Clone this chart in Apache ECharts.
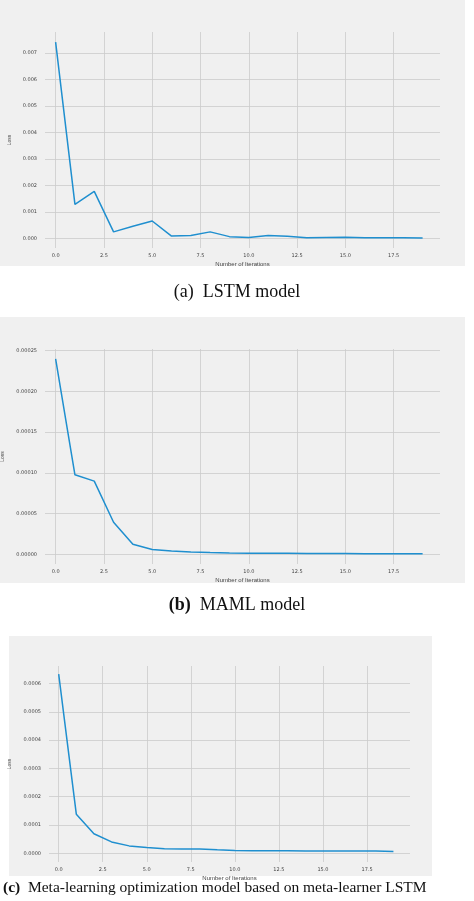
<!DOCTYPE html>
<html><head><meta charset="utf-8">
<script src="https://cdn.jsdelivr.net/npm/echarts@6/dist/echarts.min.js"></script>
<style>html,body{margin:0;padding:0;background:#fff}#c{width:474px;height:901px}</style>
</head><body><div id="c"></div>
<script>
const iterations = [0,1,2,3,4,5,6,7,8,9,10,11,12,13,14,15,16,17,18,19];
const xTicks = [0,2.5,5,7.5,10,12.5,15,17.5];
const lossLSTM = [0.00742,0.00128,0.00177,0.00024,0.00045,0.00065,0.00008,0.0001,0.00024,0.00006,0.00003,0.0001,0.00007,0.00002,0.00003,0.00004,0.00002,0.00002,0.00002,0.00001];
const lossMAML = [0.00024,0.0000975,0.0000898,0.0000393,0.0000123,0.0000057,0.000004,0.0000028,0.000002,0.0000015,0.0000013,0.0000012,0.0000011,0.000001,0.0000009,0.0000008,0.0000007,0.0000006,0.0000006,0.0000005];
const lossMeta = [0.000633,0.000138,0.000069,0.00004,0.000026,0.00002,0.000016,0.000015,0.000015,0.000012,0.00001,0.000009,0.000009,0.000009,0.000008,0.000008,0.000008,0.000008,0.000008,0.000006];
const yTicksA = [0,0.001,0.002,0.003,0.004,0.005,0.006,0.007];
const yTicksB = [0,0.00005,0.0001,0.00015,0.0002,0.00025];
const yTicksC = [0,0.0001,0.0002,0.0003,0.0004,0.0005,0.0006];
const captions = ['(a)  LSTM model','(b)  MAML model','(c)  Meta-learning optimization model based on meta-learner LSTM'];

const chart = echarts.init(document.getElementById('c'));
const lab = {fontSize:5,color:'#444',fontFamily:'DejaVu Sans'};
const split = {show:true,lineStyle:{color:'#cbcbcb',width:0.8}};
function xAx(gi,max){return {type:'value',gridIndex:gi,min:-0.55,max:max,
  axisLine:{show:false},axisTick:{show:false,customValues:xTicks},
  axisLabel:Object.assign({customValues:xTicks,formatter:v=>v.toFixed(1),margin:5},lab),
  splitLine:split,name:'Number of Iterations',nameLocation:'middle',nameGap:13,
  nameTextStyle:{fontSize:6,color:'#444'}};}
function yAx(gi,min,max,ticks,dec,gap){return {type:'value',gridIndex:gi,min:min,max:max,
  axisLine:{show:false},axisTick:{show:false,customValues:ticks},
  axisLabel:Object.assign({customValues:ticks,formatter:v=>v.toFixed(dec),margin:8},lab),
  splitLine:split,name:'Loss',nameLocation:'middle',nameGap:gap,nameTextStyle:{fontSize:5,color:'#444'}};}
function ser(i,d){return {type:'line',xAxisIndex:i,yAxisIndex:i,data:iterations.map((x,k)=>[x,d[k]]),
  showSymbol:false,lineStyle:{color:'#1f8fcf',width:1.5},silent:true};}
const g = (l,t,w,h)=>({left:l,top:t,width:w,height:h,containLabel:false,outerBoundsMode:'none'});

chart.setOption({
  animation:false,
  graphic:[
    {type:'rect',shape:{x:0,y:0,width:465,height:266},style:{fill:'#f0f0f0'},z:-10},
    {type:'rect',shape:{x:0,y:317,width:465,height:266},style:{fill:'#f0f0f0'},z:-10},
    {type:'rect',shape:{x:9,y:636,width:423,height:240},style:{fill:'#f0f0f0'},z:-10},
    {type:'text',x:237,y:283,style:{text:captions[0],font:'18px "Liberation Serif"',fill:'#111',align:'center'}},
    {type:'text',x:237,y:596,style:{rich:{b:{font:'bold 18px "Liberation Serif"',fill:'#111'},n:{font:'18px "Liberation Serif"',fill:'#111'}},text:'{b|(b)}{n|  MAML model}',align:'center'}},
    {type:'text',x:3,y:880,style:{rich:{b:{font:'bold 15.5px "Liberation Serif"',fill:'#111'},n:{font:'15.5px "Liberation Serif"',fill:'#111'}},text:'{b|(c)}{n|  Meta-learning optimization model based on meta-learner LSTM}',align:'left'}}
  ],
  grid:[g(45,32,395,216),g(45,349,395,215),g(49,666,361,196)],
  xAxis:[xAx(0,19.9),xAx(1,19.9),xAx(2,19.94)],
  yAxis:[yAx(0,-0.00037,0.0078,yTicksA,3,25),yAx(1,-0.000012,0.000252,yTicksB,5,31),yAx(2,-0.000031,0.000662,yTicksC,4,27)],
  series:[ser(0,lossLSTM),ser(1,lossMAML),ser(2,lossMeta)]
});
</script></body></html>
